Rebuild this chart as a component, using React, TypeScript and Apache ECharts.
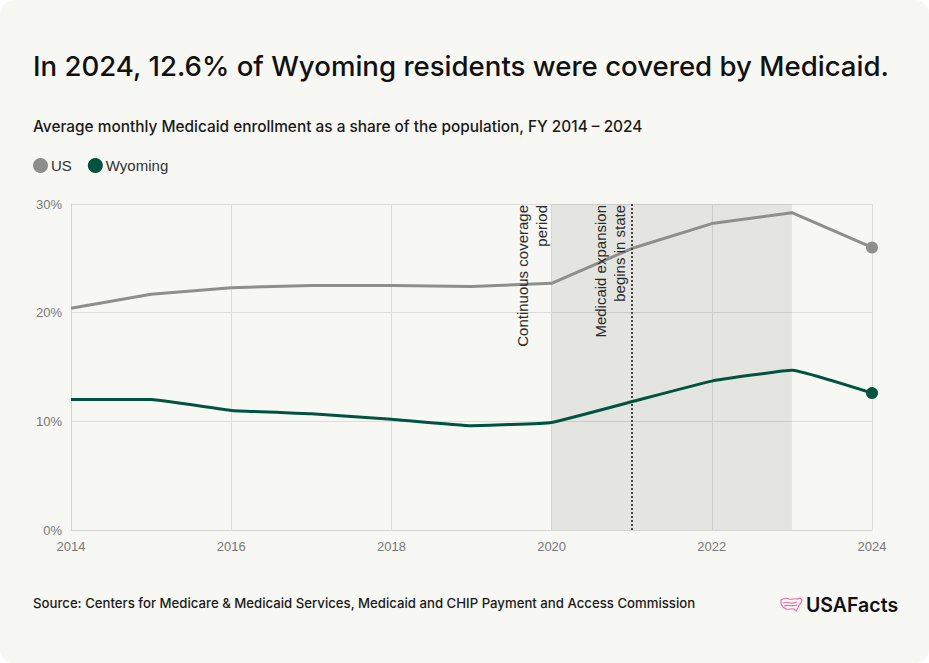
import React, { useEffect, useRef } from "react";
import * as echarts from "echarts";

// Fiscal years and average monthly Medicaid enrollment (% of population)
const years = [2014, 2015, 2016, 2017, 2018, 2019, 2020, 2021, 2022, 2023, 2024];
const usShare = [20.4, 21.7, 22.3, 22.5, 22.5, 22.4, 22.7, 25.9, 28.2, 29.2, 26.0];
const wyomingShare = [12.0, 12.0, 11.0, 10.7, 10.2, 9.6, 9.9, 11.8, 13.7, 14.7, 12.6];

const yTicks = [0, 10, 20, 30];
const continuousCoverage = [2020, 2023];
const expansionYear = 2021;

const titleText = "In 2024, 12.6% of Wyoming residents were covered by Medicaid.";
const subtitleText =
  "Average monthly Medicaid enrollment as a share of the population, FY 2014 \u2013 2024";
const sourceText =
  "Source: Centers for Medicare & Medicaid Services, Medicaid and CHIP Payment and Access Commission";

const US_COLOR = "#8e8e8a";
const WY_COLOR = "#00533f";

// Simplified outline of the contiguous US used in the logo mark
const usMapPath =
  "M1 3 C4 1 7 1 9 2 C12 3 14 1 17 2 L20 1 L22 3 L21 6 L19 8 L18 11 L16 14 L14 12 C11 11 9 13 6 12 L3 10 L1 7 Z M3 6 C7 4 11 8 17 5 M4 9 C8 7 12 10 17 8";

echarts.graphic.registerShape("usmap", echarts.graphic.extendPath(usMapPath, {}));

export default function App() {
  const ref = useRef<HTMLDivElement>(null);

  useEffect(() => {
    if (!ref.current) return;
    document.body.style.margin = "0";
    const chart = echarts.init(ref.current, undefined, { renderer: "svg" });

    const lastIdx = years.length - 1;
    const usData = years.map((y, i) => [y, usShare[i]]);
    const wyData = years.map((y, i) => [y, wyomingShare[i]]);
    const endDot = (_v: any, p: any) => (p.dataIndex === lastIdx ? 12 : 0);

    const axisFont = "'Liberation Sans', Arial, sans-serif";
    const uiFont = "Inter, Roboto, sans-serif";

    const option: any = {
      animation: false,
      backgroundColor: "transparent",
      textStyle: { fontFamily: uiFont },
      title: [
        {
          text: titleText,
          left: 33,
          top: 52,
          padding: 0,
          textStyle: { fontSize: 27.6, fontWeight: 500, color: "#111", fontFamily: uiFont },
        },
        {
          text: subtitleText,
          left: 33,
          top: 119,
          padding: 0,
          textStyle: { fontSize: 15.4, fontWeight: 500, color: "#1a1a1a", fontFamily: uiFont },
        },
        {
          text: sourceText,
          left: 33,
          top: 596,
          padding: 0,
          textStyle: { fontSize: 13.2, fontWeight: 500, color: "#1a1a1a", fontFamily: uiFont },
        },
      ],
      legend: {
        left: 28,
        top: 153,
        icon: "circle",
        itemWidth: 15,
        itemHeight: 15,
        itemGap: 16,
        textStyle: { fontSize: 15, color: "#333", fontFamily: axisFont, padding: [0, 0, 0, -2] },
        data: ["US", "Wyoming"],
      },
      grid: { left: 71, right: 57, top: 204, bottom: 133 },
      xAxis: {
        type: "value",
        min: 2014,
        max: 2024,
        interval: 2,
        axisLine: { show: true, lineStyle: { color: "#d4d4d0" } },
        axisTick: { show: false },
        axisLabel: {
          color: "#777",
          fontSize: 13,
          fontFamily: axisFont,
          margin: 10,
          formatter: (v: number) => String(v),
        },
        splitLine: { show: true, lineStyle: { color: "#dcdcd8" } },
      },
      yAxis: {
        type: "value",
        min: 0,
        max: 30,
        interval: 10,
        axisLine: { show: true, lineStyle: { color: "#d4d4d0" } },
        axisTick: { show: false },
        axisLabel: {
          color: "#777",
          fontSize: 13,
          fontFamily: axisFont,
          margin: 9,
          formatter: (v: number) => (yTicks.includes(v) ? `${v}%` : ""),
        },
        splitLine: { show: true, lineStyle: { color: "#dcdcd8" } },
      },
      series: [
        {
          name: "US",
          type: "line",
          data: usData,
          color: US_COLOR,
          lineStyle: { width: 3, color: US_COLOR },
          symbol: "circle",
          symbolSize: endDot,
          showAllSymbol: true,
          itemStyle: { color: US_COLOR },
          z: 4,
          markArea: {
            silent: true,
            itemStyle: { color: "rgba(0,0,0,0.075)" },
            data: [[{ xAxis: continuousCoverage[0] }, { xAxis: continuousCoverage[1] }]],
          },
          markLine: {
            silent: true,
            symbol: "none",
            label: { show: false },
            lineStyle: { type: [2, 2], color: "#444", width: 2 },
            data: [{ xAxis: expansionYear }],
          },
        },
        {
          name: "Wyoming",
          type: "line",
          data: wyData,
          color: WY_COLOR,
          smooth: 0.1,
          lineStyle: { width: 3, color: WY_COLOR },
          symbol: "circle",
          symbolSize: endDot,
          showAllSymbol: true,
          itemStyle: { color: WY_COLOR },
          z: 5,
        },
      ],
    };
    chart.setOption(option);

    // Annotations placed beside the shaded period and the expansion marker
    const top = chart.convertToPixel({ yAxisIndex: 0 }, 30);
    const xCov = chart.convertToPixel({ xAxisIndex: 0 }, continuousCoverage[0]);
    const xExp = chart.convertToPixel({ xAxisIndex: 0 }, expansionYear);
    const noteStyle = {
      fill: "#2a2a2a",
      fontSize: 15,
      fontFamily: axisFont,
      align: "right",
      verticalAlign: "bottom",
      lineHeight: 19,
    };
    chart.setOption({
      graphic: [
        {
          type: "text",
          x: xCov - 1,
          y: top + 1,
          rotation: Math.PI / 2,
          style: { ...noteStyle, text: "Continuous coverage\nperiod" },
          z: 10,
        },
        {
          type: "text",
          x: xExp - 3,
          y: top + 1,
          rotation: Math.PI / 2,
          style: { ...noteStyle, text: "Medicaid expansion\nbegins in state" },
          z: 10,
        },
        {
          type: "usmap",
          x: 780,
          y: 597,
          scaleX: 1,
          scaleY: 1,
          style: { fill: "none", stroke: "#ee6aa7", lineWidth: 1.2 },
        },
        {
          type: "text",
          x: 806,
          y: 605,
          style: {
            text: "USAFacts",
            fill: "#111",
            fontSize: 19.5,
            fontWeight: 600,
            fontFamily: uiFont,
            verticalAlign: "middle",
          },
        },
      ],
    });

    return () => chart.dispose();
  }, []);

  return (
    <div style={{ position: "absolute", left: 0, top: 0, width: 929, height: 663, background: "#fff" }}>
      <div
        ref={ref}
        style={{
          width: 929,
          height: 663,
          background: "#f7f7f3",
          borderRadius: 14,
          boxSizing: "border-box",
        }}
      />
    </div>
  );
}
